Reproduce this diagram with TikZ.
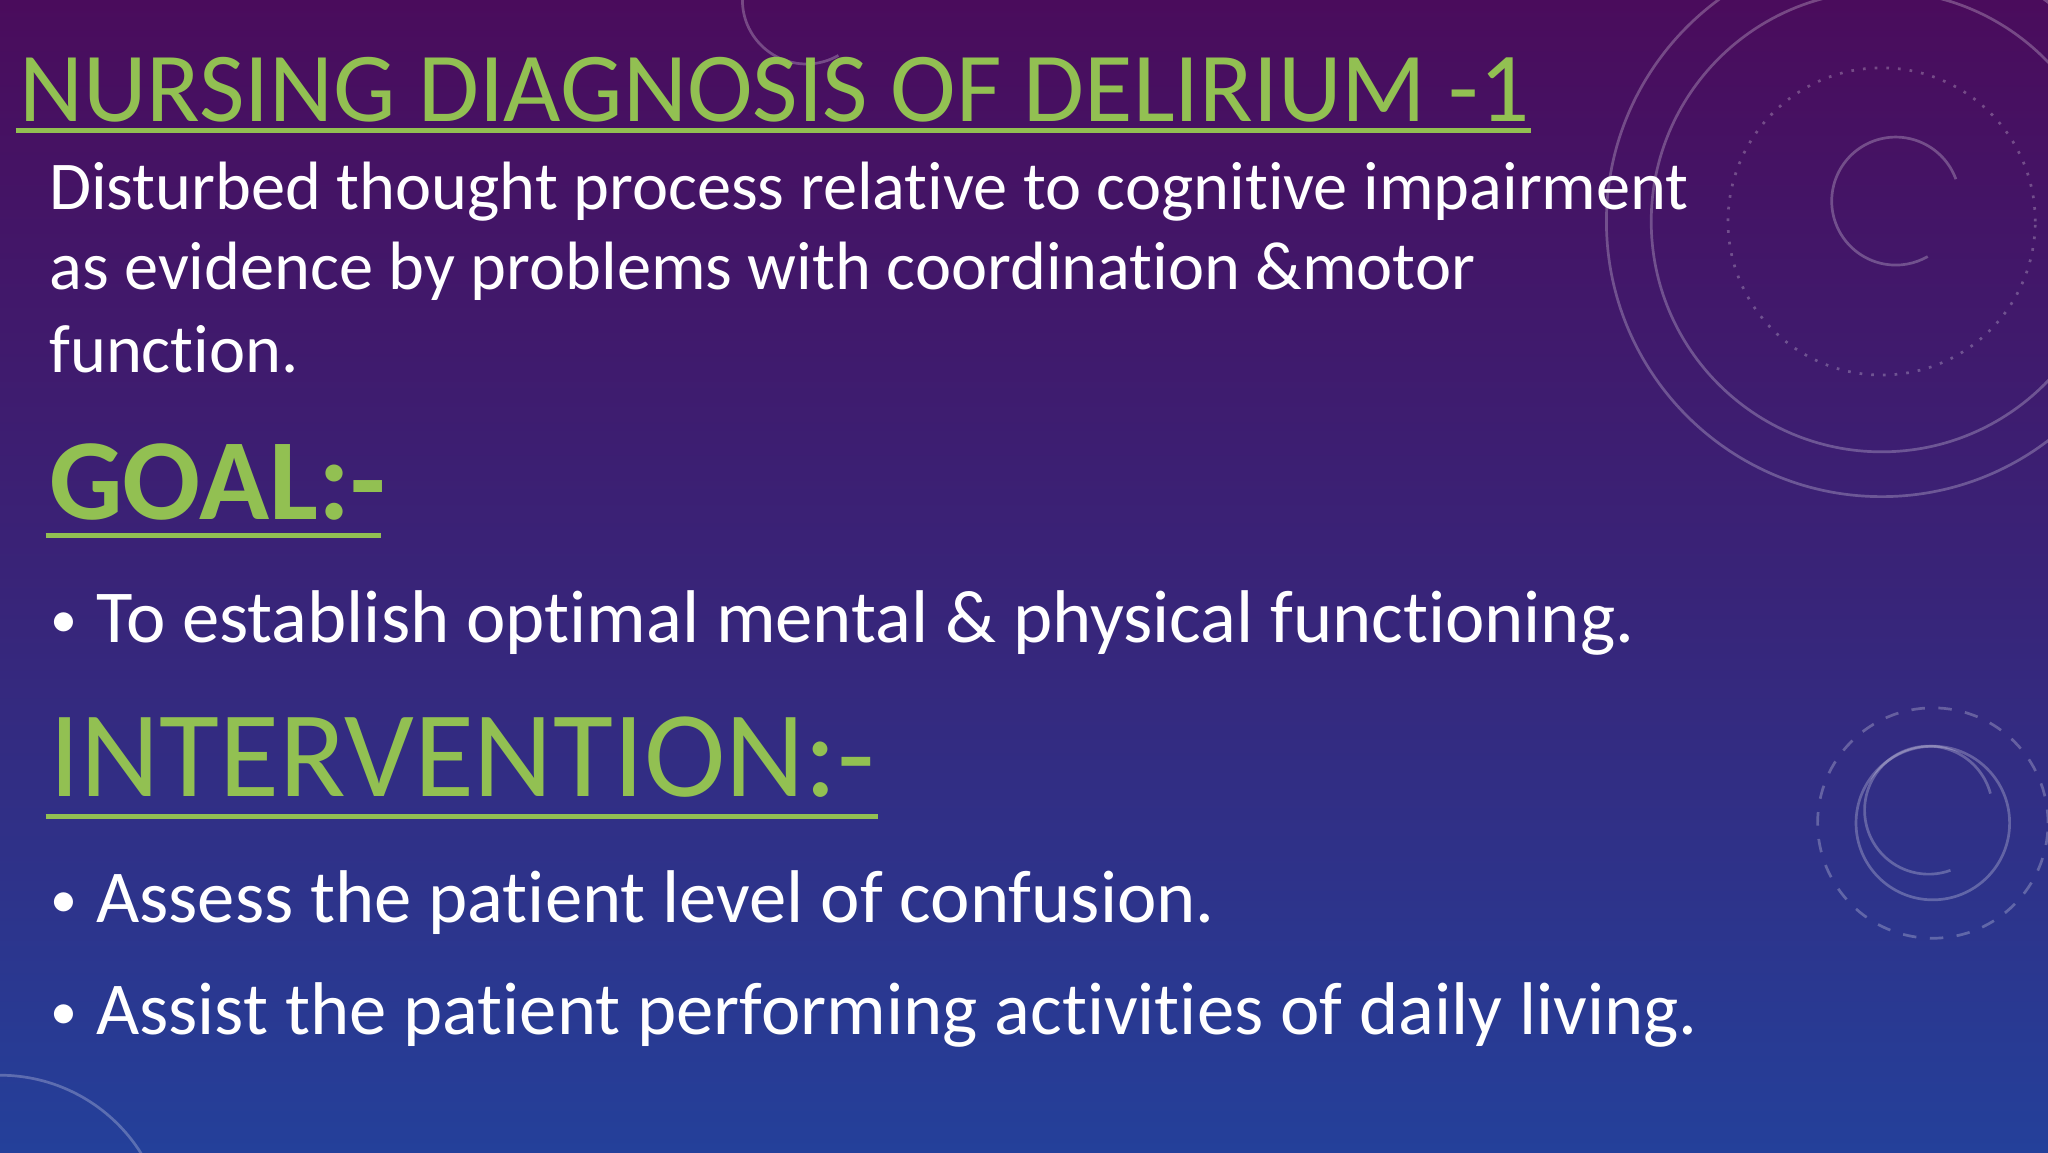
\documentclass[tikz,border=0pt]{standalone}
\usepackage{fontspec}
\setmainfont{Carlito}[Ligatures=CommonOff]
\definecolor{titlegreen}{HTML}{92C052}
\definecolor{bgtop}{HTML}{4A0C5C}
\definecolor{bgbot}{HTML}{24409A}
\tikzset{
  heading/.style={anchor=base west, inner sep=0pt, text=titlegreen},
  bodytext/.style={anchor=base west, inner sep=0pt, text=white, font=\fontsize{15.2}{18}\selectfont},
  bullettext/.style={anchor=base west, inner sep=0pt, text=white, font=\fontsize{16.6}{20}\selectfont},
  bulletdot/.style={anchor=base west, inner sep=0pt, text=white, font=\fontsize{12}{14}\selectfont},
  rule/.style={titlegreen, line width=1.1pt},
  ring/.style={white, opacity=0.25, line width=0.6pt}
}
\begin{document}
\begin{tikzpicture}
  \useasboundingbox (0,0) rectangle (16,9);
  % background
  \shade[top color=bgtop, bottom color=bgbot, middle color=bgtop!55!bgbot] (0,0) rectangle (16,9);
  % decorative rings
  \draw[ring] (14.7,7.27) circle (2.15);
  \draw[ring] (14.7,7.27) circle (1.8);
  \draw[ring, dotted] (14.7,7.27) circle (1.2);
  \draw[ring] (15.28,7.6) arc (20:300:0.5);
  \draw[ring] (15.1,2.57) circle (0.6);
  \draw[ring, dashed] (15.1,2.57) circle (0.9);
  \draw[ring] (15.55,2.8) arc (15:290:0.5);
  \draw[ring] (0,0.6) arc (90:-10:1.3);
  \draw[ring] (5.8,9) arc (180:300:0.5);
  % title
  \node[heading, font=\fontsize{22}{26}\selectfont] (title) at (0.143,8.051) {NURSING DIAGNOSIS OF DELIRIUM -1};
  \draw[rule] (0.122,7.98) -- (11.96,7.98);
  % diagnosis text
  \node[bodytext] (line1) at (0.378,7.367) {Disturbed thought process relative to cognitive impairment};
  \node[bodytext] (line2) at (0.378,6.735) {as evidence by problems with coordination \&motor};
  \node[bodytext] (line3) at (0.378,6.092) {function.};
  % goal
  \node[heading, font=\fontsize{25.7}{30}\selectfont\bfseries] (goal) at (0.378,4.939) {GOAL:-};
  \draw[rule] (0.357,4.816) -- (2.98,4.816);
  \node[bulletdot] (gdot) at (0.39,4.02) {•};
  \node[bullettext] (goal1) at (0.745,3.98) {To establish optimal mental \& physical functioning.};
  % intervention
  \node[heading, font=\fontsize{27.3}{32}\selectfont] (interv) at (0.378,2.776) {INTERVENTION:-};
  \draw[rule] (0.357,2.62) -- (6.857,2.62);
  \node[bulletdot] (idot1) at (0.39,1.836) {•};
  \node[bullettext] (interv1) at (0.745,1.796) {Assess the patient level of confusion.};
  \node[bulletdot] (idot2) at (0.39,0.958) {•};
  \node[bullettext] (interv2) at (0.745,0.918) {Assist the patient performing activities of daily living.};
\end{tikzpicture}
\end{document}
